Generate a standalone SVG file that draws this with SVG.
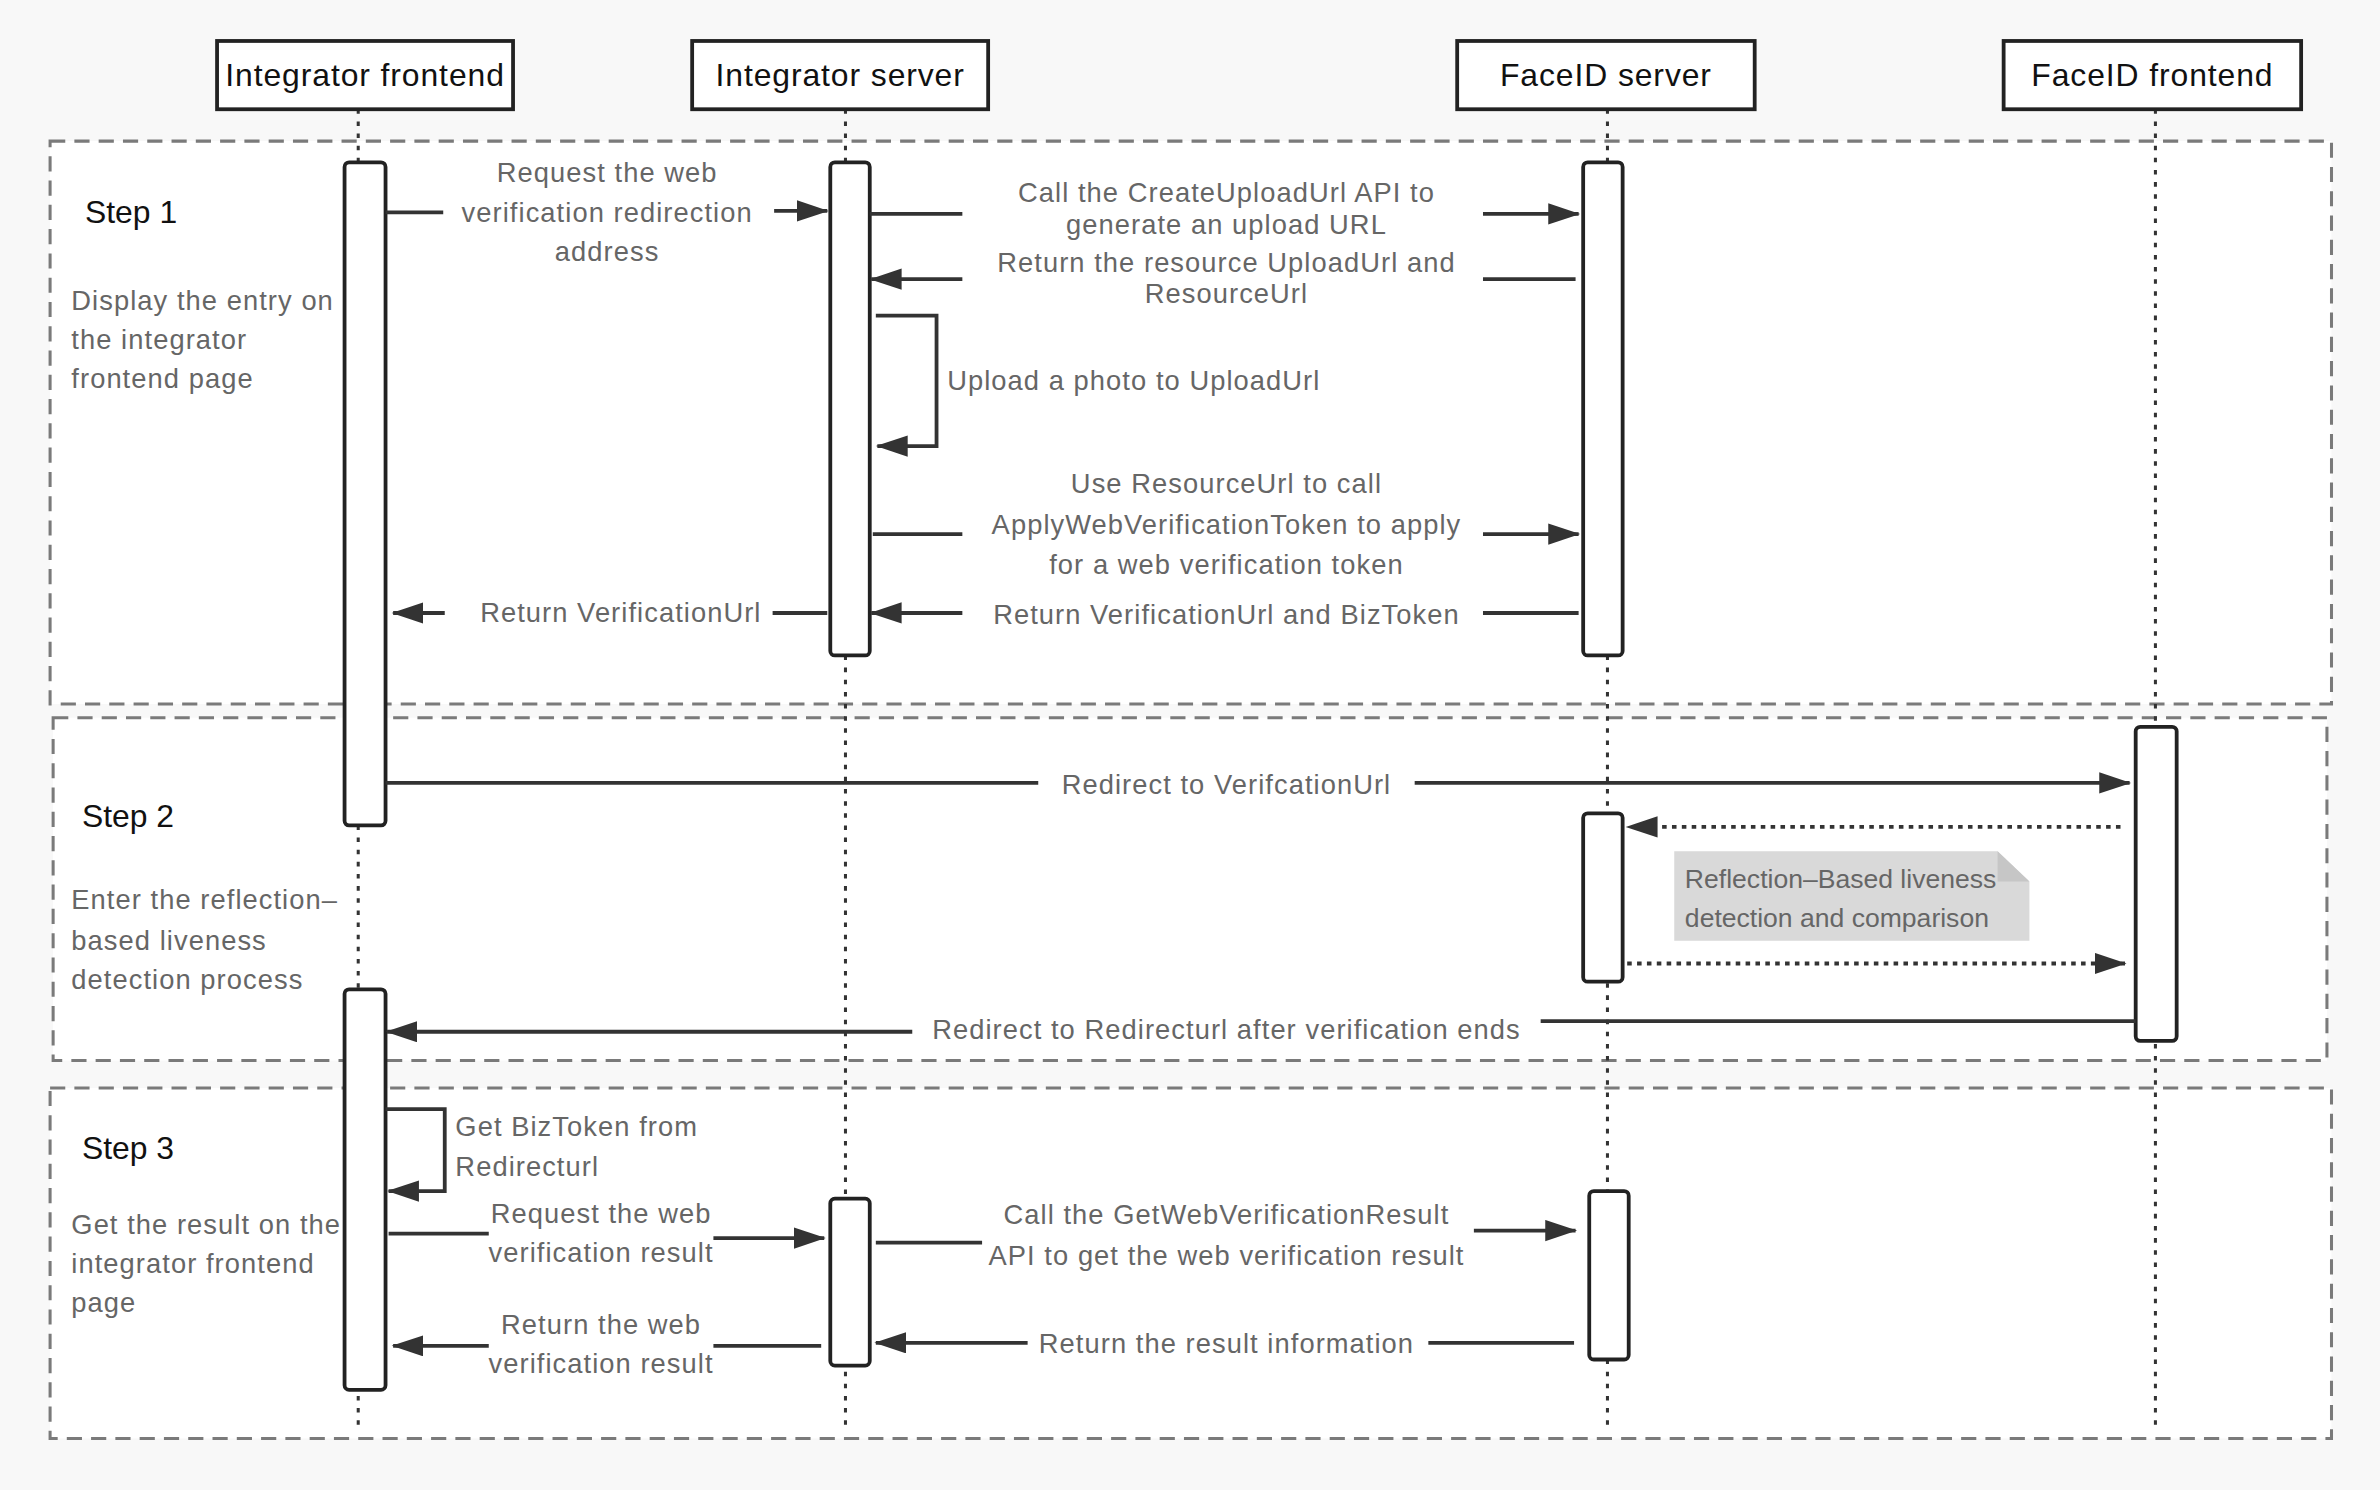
<svg xmlns="http://www.w3.org/2000/svg" width="2380" height="1490" viewBox="0 0 2380 1490">
<defs>
<marker id="arr" markerUnits="userSpaceOnUse" markerWidth="22" markerHeight="15" refX="20" refY="7" orient="auto">
<path d="M0,0 L21,7 L0,14 z" fill="#333"/>
</marker>
<style>
.frame{fill:#fff;stroke:#7a7a7a;stroke-width:2;stroke-dasharray:10 6}
.head rect{fill:#fff;stroke:#222;stroke-width:2.5}
.head text{font-family:"Liberation Sans",Arial,sans-serif;font-size:21px;letter-spacing:0.6px;fill:#111;text-anchor:middle}
.life{stroke:#333;stroke-width:2;stroke-dasharray:3 5;fill:none}
.act{fill:#fff;stroke:#333;stroke-width:2}
.msg{stroke:#333;stroke-width:2.5;fill:none}
.arrow{marker-end:url(#arr)}
.dot{stroke-dasharray:3 3.5}
.lbl{font-family:"Liberation Sans",Arial,sans-serif;font-size:18px;letter-spacing:0.7px;fill:#666;text-anchor:middle}
.lft{text-anchor:start}
.note{font-family:"Liberation Sans",Arial,sans-serif;font-size:17.5px;fill:#666}
.step{font-family:"Liberation Sans",Arial,sans-serif;font-size:21px;fill:#111}
.desc{font-family:"Liberation Sans",Arial,sans-serif;font-size:18px;letter-spacing:0.7px;fill:#666}
</style>
</defs>
<rect x="0" y="0" width="2380" height="1490" fill="#f8f8f8"/>
<g transform="scale(1.5179 1.5173)">
<g id="frames">
<g id="step1"><rect class="frame" x="33" y="93" width="1503" height="371"/>
<text class="step" x="56" y="147">Step 1</text>
<text class="desc" x="47" y="204">Display the entry on</text>
<text class="desc" x="47" y="230">the integrator</text>
<text class="desc" x="47" y="256">frontend page</text></g>
<g id="step2"><rect class="frame" x="35" y="473" width="1498" height="226"/>
<text class="step" x="54" y="545">Step 2</text>
<text class="desc" x="47" y="599">Enter the reflection–</text>
<text class="desc" x="47" y="626">based liveness</text>
<text class="desc" x="47" y="652">detection process</text></g>
<g id="step3"><rect class="frame" x="33" y="717" width="1503" height="231"/>
<text class="step" x="54" y="764">Step 3</text>
<text class="desc" x="47" y="813">Get the result on the</text>
<text class="desc" x="47" y="839">integrator frontend</text>
<text class="desc" x="47" y="865">page</text></g>
</g>
<g id="integrator-frontend" class="head">
<line class="life" x1="236" y1="72" x2="236" y2="940"/>
<rect x="143" y="27" width="195" height="45"/>
<text x="240.5" y="57">Integrator frontend</text>
<rect class="act" x="227" y="107" width="27" height="437" rx="3"/>
<rect class="act" x="227" y="652" width="27" height="264" rx="3"/>
</g>
<g id="integrator-server" class="head">
<line class="life" x1="557" y1="72" x2="557" y2="940"/>
<rect x="456" y="27" width="195" height="45"/>
<text x="553.5" y="57">Integrator server</text>
<rect class="act" x="547" y="107" width="26" height="325" rx="3"/>
<rect class="act" x="547" y="790" width="26" height="110" rx="3"/>
</g>
<g id="faceid-server" class="head">
<line class="life" x1="1059" y1="72" x2="1059" y2="940"/>
<rect x="960" y="27" width="196" height="45"/>
<text x="1058" y="57">FaceID server</text>
<rect class="act" x="1043" y="107" width="26" height="325" rx="3"/>
<rect class="act" x="1043" y="536" width="26" height="111" rx="3"/>
<rect class="act" x="1047" y="785" width="26" height="111" rx="3"/>
</g>
<g id="faceid-frontend" class="head">
<line class="life" x1="1420" y1="72" x2="1420" y2="940"/>
<rect x="1320" y="27" width="196" height="45"/>
<text x="1418" y="57">FaceID frontend</text>
<rect class="act" x="1407" y="479" width="27" height="207" rx="3"/>
</g>
<g id="note">
<path d="M1103,561 L1316,561 L1337,581 L1337,620 L1103,620 z" fill="#d9d9d9"/>
<path d="M1316,561 L1316,581 L1337,581 z" fill="#c6c6c6"/>
<text class="note" x="1110" y="585">Reflection–Based liveness</text>
<text class="note" x="1110" y="611">detection and comparison</text>
</g>
<g id="connectors">
<line class="msg" x1="254" y1="140" x2="292" y2="140"/>
<line class="msg arrow" x1="510" y1="139" x2="545" y2="139"/>
<line class="msg" x1="573" y1="141" x2="634" y2="141"/>
<line class="msg arrow" x1="977" y1="141" x2="1040" y2="141"/>
<line class="msg" x1="1038" y1="184" x2="977" y2="184"/>
<line class="msg arrow" x1="634" y1="184" x2="574" y2="184"/>
<polyline class="msg arrow" points="577,208 617,208 617,294 578,294"/>
<line class="msg" x1="575" y1="352" x2="634" y2="352"/>
<line class="msg arrow" x1="977" y1="352" x2="1040" y2="352"/>
<line class="msg" x1="1040" y1="404" x2="977" y2="404"/>
<line class="msg arrow" x1="634" y1="404" x2="574" y2="404"/>
<line class="msg" x1="545" y1="404" x2="509" y2="404"/>
<line class="msg arrow" x1="293" y1="404" x2="259" y2="404"/>
<line class="msg" x1="254" y1="516" x2="684" y2="516"/>
<line class="msg arrow" x1="932" y1="516" x2="1403" y2="516"/>
<line class="msg dot arrow" x1="1397" y1="545" x2="1072" y2="545"/>
<line class="msg dot arrow" x1="1072" y1="635" x2="1400" y2="635"/>
<line class="msg" x1="1407" y1="673" x2="1015" y2="673"/>
<line class="msg arrow" x1="601" y1="680" x2="255" y2="680"/>
<polyline class="msg arrow" points="254,731 293,731 293,785 256,785"/>
<line class="msg" x1="256" y1="813" x2="322" y2="813"/>
<line class="msg arrow" x1="470" y1="816" x2="543" y2="816"/>
<line class="msg" x1="577" y1="819" x2="647" y2="819"/>
<line class="msg arrow" x1="971" y1="811" x2="1038" y2="811"/>
<line class="msg" x1="1037" y1="885" x2="941" y2="885"/>
<line class="msg arrow" x1="677" y1="885" x2="577" y2="885"/>
<line class="msg" x1="541" y1="887" x2="470" y2="887"/>
<line class="msg arrow" x1="322" y1="887" x2="259" y2="887"/>
</g>
<g id="labels">
<text class="lbl" x="400" y="120">Request the web</text>
<text class="lbl" x="400" y="146">verification redirection</text>
<text class="lbl" x="400" y="172">address</text>
<text class="lbl" x="808" y="133">Call the CreateUploadUrl API to</text>
<text class="lbl" x="808" y="154">generate an upload URL</text>
<text class="lbl" x="808" y="179">Return the resource UploadUrl and</text>
<text class="lbl" x="808" y="200">ResourceUrl</text>
<text class="lbl lft" x="624" y="257">Upload a photo to UploadUrl</text>
<text class="lbl" x="808" y="325">Use ResourceUrl to call</text>
<text class="lbl" x="808" y="352">ApplyWebVerificationToken to apply</text>
<text class="lbl" x="808" y="378">for a web verification token</text>
<text class="lbl" x="808" y="411">Return VerificationUrl and BizToken</text>
<text class="lbl" x="409" y="410">Return VerificationUrl</text>
<text class="lbl" x="808" y="523">Redirect to VerifcationUrl</text>
<text class="lbl" x="808" y="685">Redirect to Redirecturl after verification ends</text>
<text class="lbl lft" x="300" y="749">Get BizToken from</text>
<text class="lbl lft" x="300" y="775">Redirecturl</text>
<text class="lbl" x="396" y="806">Request the web</text>
<text class="lbl" x="396" y="832">verification result</text>
<text class="lbl" x="808" y="807">Call the GetWebVerificationResult</text>
<text class="lbl" x="808" y="834">API to get the web verification result</text>
<text class="lbl" x="808" y="892">Return the result information</text>
<text class="lbl" x="396" y="879">Return the web</text>
<text class="lbl" x="396" y="905">verification result</text>
</g>
</g>
</svg>
